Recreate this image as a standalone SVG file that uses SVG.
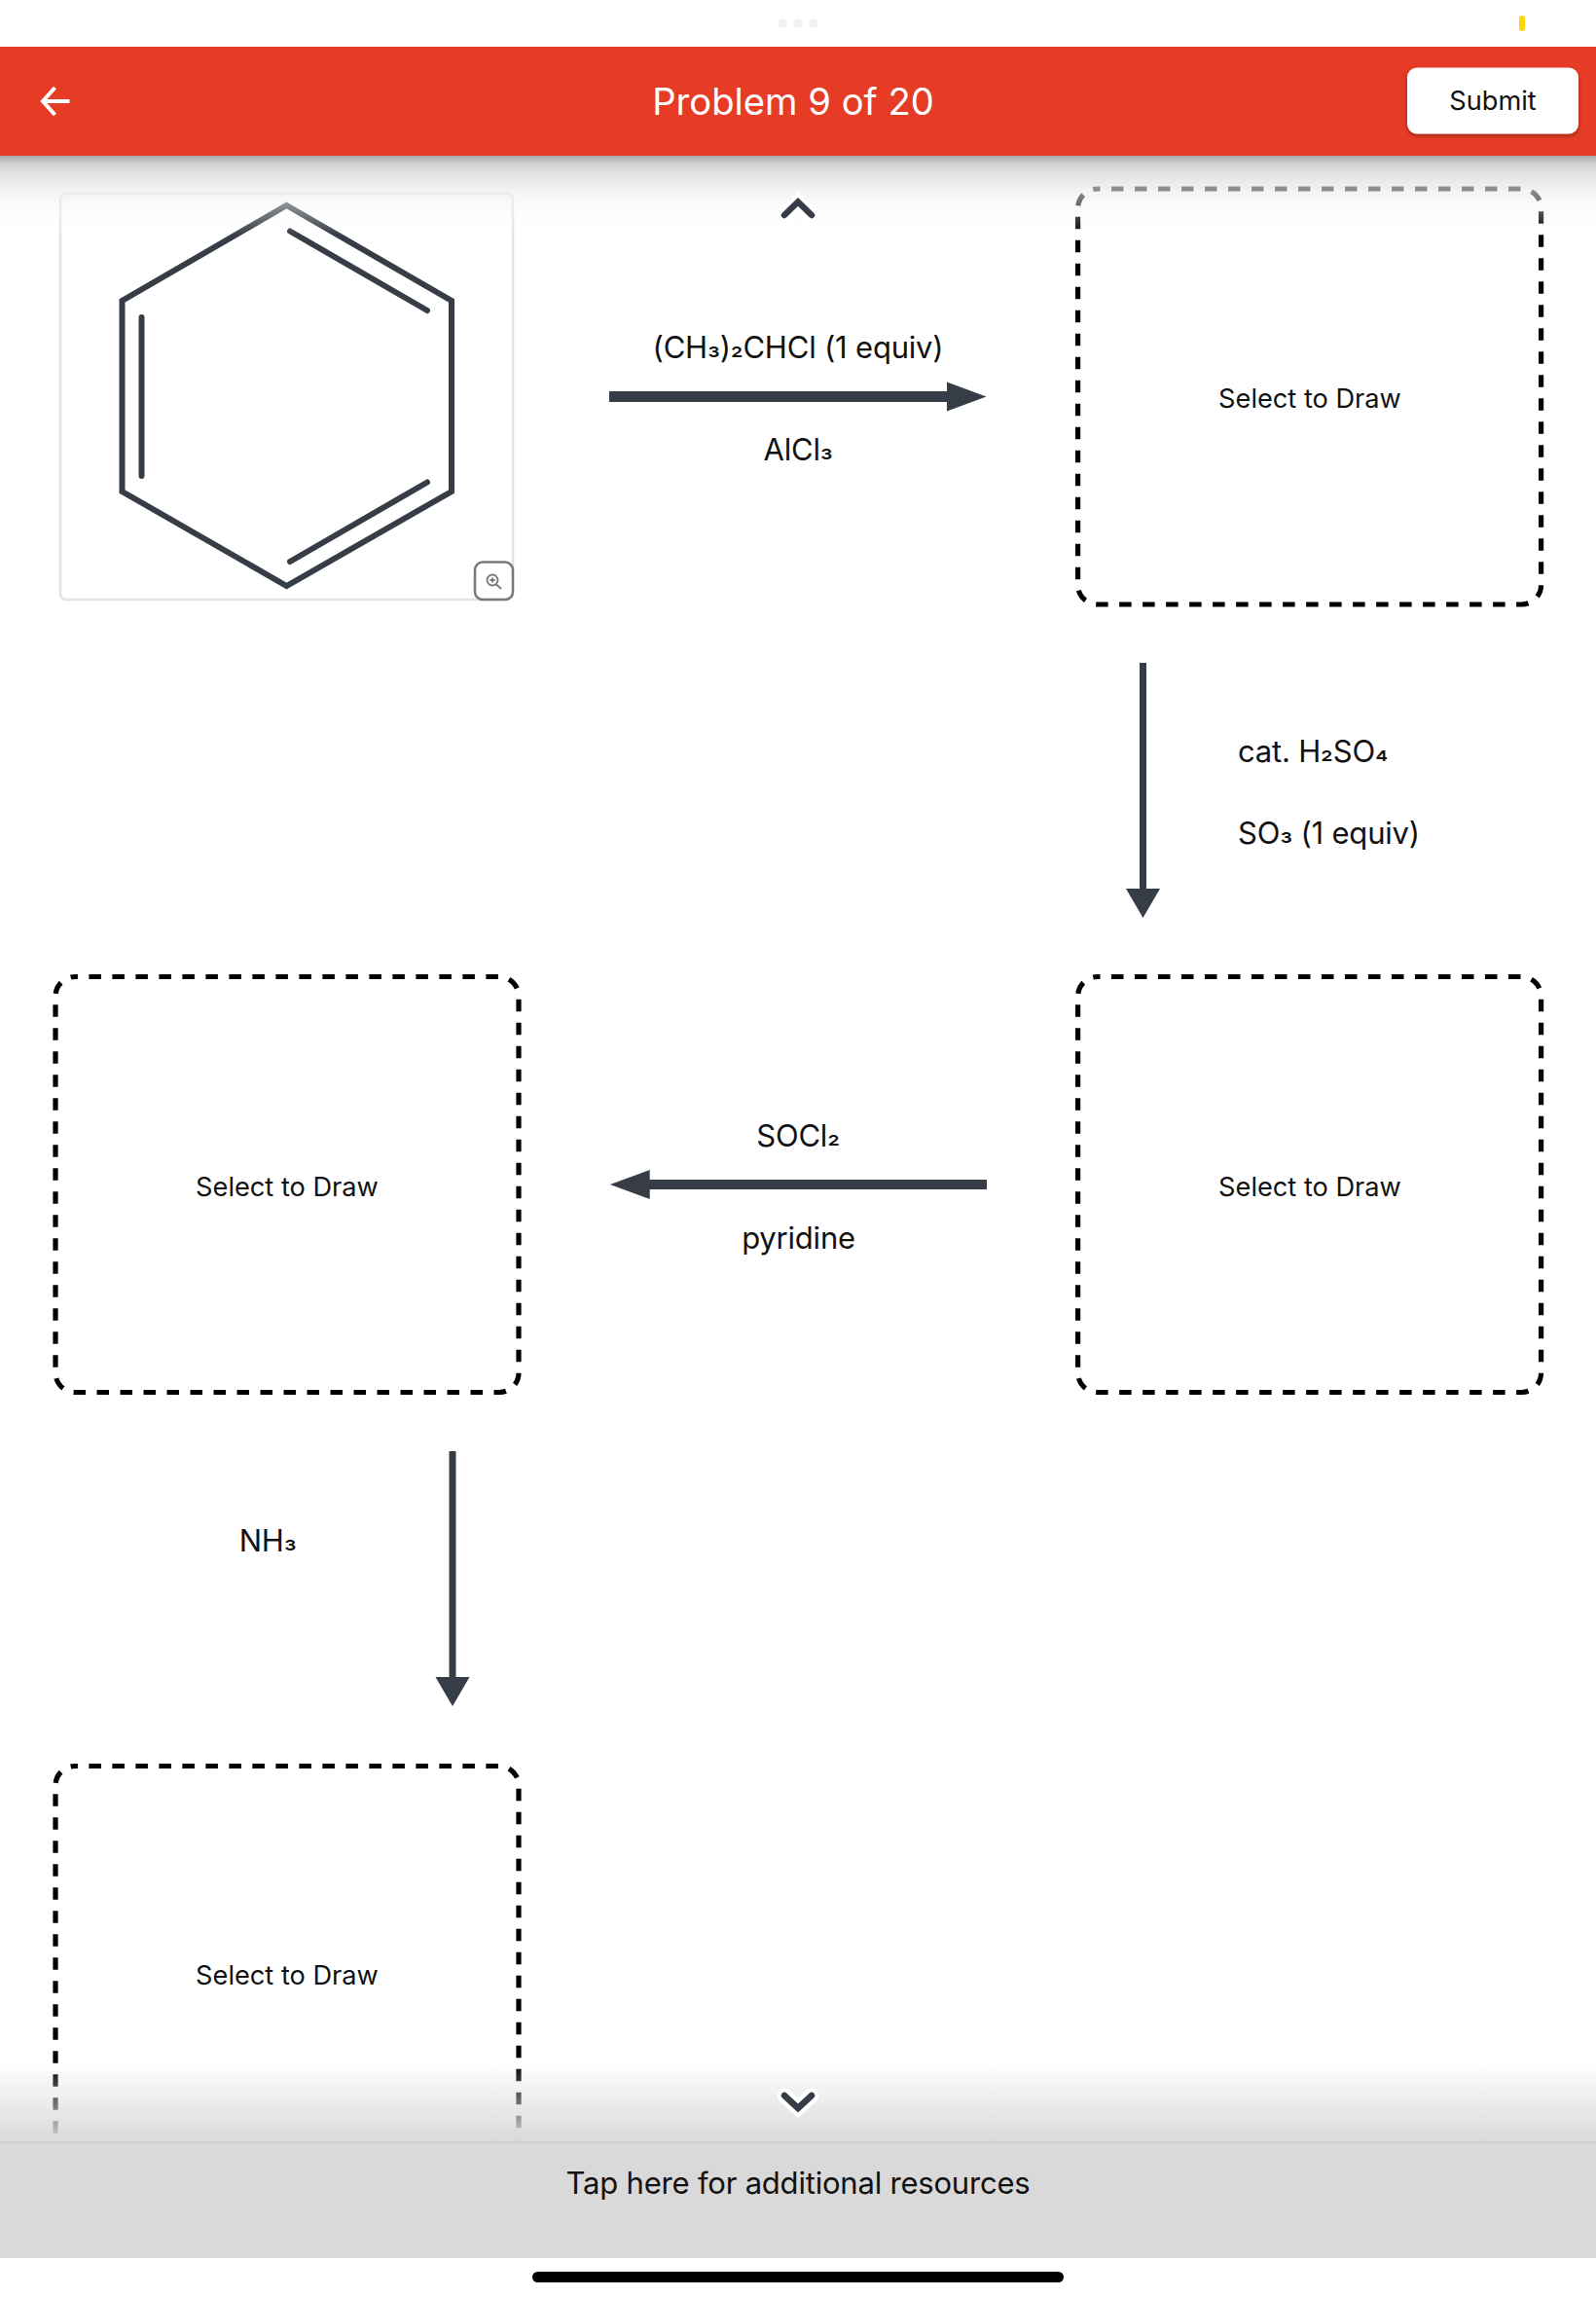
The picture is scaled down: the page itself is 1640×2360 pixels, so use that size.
<svg xmlns="http://www.w3.org/2000/svg" width="1640" height="2360" viewBox="0 0 1640 2360">
<style>
text{font-family:Inter,"Noto Sans","Liberation Sans",sans-serif;fill:#111;}
.r{font-size:31px;letter-spacing:-0.2px;}
.s{font-size:27.2px;}
.u{font-size:29px;}
.m{text-anchor:middle;}
.d{fill:none;stroke:#000;stroke-width:5.2;stroke-dasharray:12.5 11.5;stroke-dashoffset:9.6;}
.b{fill:none;stroke:#373d47;stroke-width:6;stroke-linejoin:miter;}
.i{fill:none;stroke:#373d47;stroke-width:6;stroke-linecap:round;}
.a{fill:#373d47;}
</style>
<defs>
<linearGradient id="top" x1="0" y1="0" x2="0" y2="1">
<stop offset="0" stop-color="#a8a8a8" stop-opacity="1"/>
<stop offset="0.12" stop-color="#cfcfcf" stop-opacity="0.85"/>
<stop offset="0.45" stop-color="#ececec" stop-opacity="0.58"/>
<stop offset="0.65" stop-color="#f5f5f5" stop-opacity="0.4"/>
<stop offset="1" stop-color="#ffffff" stop-opacity="0"/>
</linearGradient>
<linearGradient id="bot" x1="0" y1="0" x2="0" y2="1">
<stop offset="0" stop-color="#d9d9d9" stop-opacity="0"/>
<stop offset="1" stop-color="#d9d9d9" stop-opacity="1"/>
</linearGradient>
<filter id="sh" x="-10%" y="-20%" width="120%" height="150%"><feDropShadow dx="0" dy="2" stdDeviation="2" flood-color="#000" flood-opacity="0.35"/></filter>
</defs>
<rect width="1640" height="2360" fill="#fff"/>

<g id="start-material">
<rect x="62" y="199" width="465" height="417" rx="6" fill="#fff" stroke="#e4e4e4" stroke-width="2.5"/>
<polygon class="b" points="294.5,211 464,309 464,505 294.5,602 125.5,505 125.5,309"/>
<line class="i" x1="298" y1="237.5" x2="439" y2="319"/>
<line class="i" x1="298" y1="577" x2="439" y2="495.5"/>
<line class="i" x1="145.5" y1="326" x2="145.5" y2="489"/>
<g id="zoom-button">
<rect x="488" y="577.500" width="39" height="38.500" rx="8" fill="#fff" stroke="#75787c" stroke-width="2.500"/>
<circle cx="506" cy="596" r="5.500" fill="none" stroke="#75787c" stroke-width="1.800"/>
<path d="M510,600.500 L515,605 M503.500,596 H508.500 M506,593.500 V598.500" fill="none" stroke="#75787c" stroke-width="1.800"/>
</g>
</g>

<g id="connectors">
<path class="a" d="M626,402 H973 V392.500 L1013.500,407.500 L973,422.500 V413 H626 Z"/>
<path class="a" d="M1171,681 H1178 V913 H1192 L1174.500,943 L1157,913 H1171 Z"/>
<path class="a" d="M1014,1212 H667.700 V1202 L626.800,1217 L667.700,1232 V1222 H1014 Z"/>
<path class="a" d="M461.500,1491 H468.500 V1723 H482.500 L465,1753 L447.500,1723 H461.500 Z"/>
</g>

<g id="labels">
<text class="r m" x="820" y="368">(CH<tspan class="u" dy="-5">₃</tspan><tspan dy="5">)</tspan><tspan class="u" dy="-5">₂</tspan><tspan dy="5">CHCl (1 equiv)</tspan></text>
<text class="r m" x="820" y="473">AlCl<tspan class="u" dy="-5">₃</tspan></text>
<text class="r" x="1272" y="783">cat. H<tspan class="u" dy="-5">₂</tspan><tspan dy="5">SO</tspan><tspan class="u" dy="-5">₄</tspan></text>
<text class="r" x="1272" y="867">SO<tspan class="u" dy="-5">₃</tspan><tspan dy="5"> (1 equiv)</tspan></text>
<text class="r m" x="820" y="1178">SOCl<tspan class="u" dy="-5">₂</tspan></text>
<text class="r m" x="820.500" y="1283">pyridine</text>
<text class="r m" x="275" y="1594">NH<tspan class="u" dy="-5">₃</tspan></text>
</g>

<g id="box-1"><rect class="d" x="1107.600" y="194" width="476" height="427" rx="20"/><text class="s m" x="1346" y="419">Select to Draw</text></g>
<g id="box-2"><rect class="d" x="1107.600" y="1003.500" width="476" height="427" rx="20"/><text class="s m" x="1346" y="1229">Select to Draw</text></g>
<g id="box-3"><rect class="d" x="57" y="1003.500" width="476" height="427" rx="20"/><text class="s m" x="295" y="1229">Select to Draw</text></g>
<g id="box-4"><rect class="d" x="57" y="1814.500" width="476" height="427" rx="20"/><text class="s m" x="295" y="2039">Select to Draw</text></g>

<rect x="0" y="160" width="1640" height="82" fill="url(#top)"/>
<rect x="0" y="2118" width="1640" height="83" fill="url(#bot)"/>

<g id="scroll-up">
<path d="M806,221 L820,207.500 L834,221" fill="none" stroke="#fff" stroke-width="15" stroke-linecap="round"/>
<path d="M806,221 L820,207.500 L834,221" fill="none" stroke="#373d47" stroke-width="6.500" stroke-linecap="round"/>
</g>
<g id="scroll-down">
<path d="M806,2153 L820,2166 L834,2153" fill="none" stroke="#fff" stroke-width="15" stroke-linecap="round"/>
<path d="M806,2153 L820,2166 L834,2153" fill="none" stroke="#373d47" stroke-width="6.500" stroke-linecap="round"/>
</g>

<g id="status-bar">
<circle cx="804" cy="24" r="5" fill="#f3f3f3"/>
<circle cx="820" cy="24" r="5" fill="#f3f3f3"/>
<circle cx="836" cy="24" r="5" fill="#f3f3f3"/>
<rect x="1561" y="16" width="6" height="16" rx="3" fill="#ffd60a"/>
</g>

<g id="header">
<rect x="0" y="48" width="1640" height="112" fill="#e63b25"/>
<path d="M71.500,104 H44 M56.500,90 L44,104 L56.500,118" fill="none" stroke="#fff" stroke-width="4"/>
<text x="815" y="118" font-size="38.200" class="m" style="fill:#fff">Problem 9 of 20</text>
<g id="submit"><rect x="1446" y="69.500" width="176" height="68" rx="10" fill="#fff" filter="url(#sh)"/>
<text x="1534" y="113" class="s m">Submit</text></g>
</g>

<g id="footer">
<rect x="0" y="2200" width="1640" height="120" fill="#d9d9d9"/>
<rect x="0" y="2200" width="1640" height="2" fill="#ccd1d6"/>
<text x="820" y="2254" class="r m">Tap here for additional resources</text>
<rect x="547" y="2334" width="546" height="11" rx="5.500" fill="#000"/>
</g>
</svg>
